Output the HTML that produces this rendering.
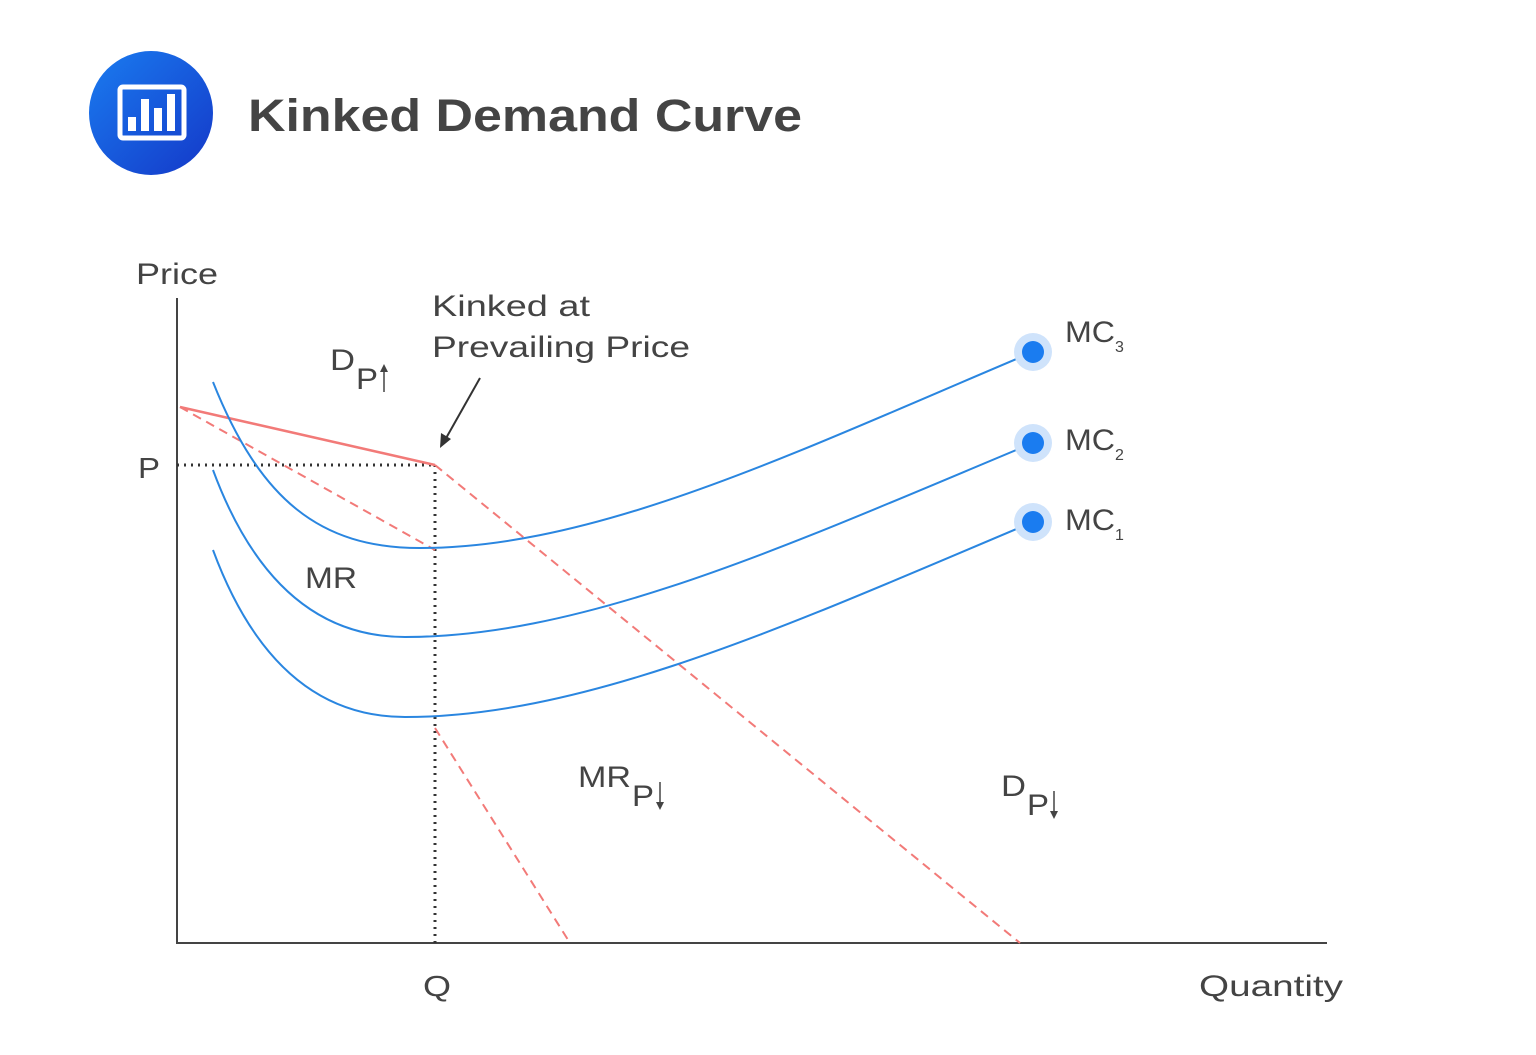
<!DOCTYPE html>
<html><head><meta charset="utf-8"><style>
body{margin:0;background:#fff;}
svg text{font-family:"Liberation Sans",sans-serif;fill:#444;}
</style></head><body>
<svg width="1536" height="1050" viewBox="0 0 1536 1050" xmlns="http://www.w3.org/2000/svg">
<defs>
<linearGradient id="g" x1="0" y1="0" x2="1" y2="1">
<stop offset="0" stop-color="#1a7cf0"/><stop offset="1" stop-color="#1438c8"/>
</linearGradient>
</defs>
<circle cx="151" cy="113" r="62" fill="url(#g)"/>
<rect x="120" y="87" width="64" height="51" rx="3" fill="none" stroke="#fff" stroke-width="5"/>
<rect x="128" y="117" width="8" height="14" fill="#fff"/>
<rect x="141" y="99" width="8" height="32" fill="#fff"/>
<rect x="154" y="108" width="8" height="23" fill="#fff"/>
<rect x="167" y="94" width="8" height="37" fill="#fff"/>
<text x="248" y="131" font-size="45" font-weight="bold" fill="#444" textLength="554" lengthAdjust="spacingAndGlyphs">Kinked Demand Curve</text>

<line x1="177" y1="298" x2="177" y2="943" stroke="#444" stroke-width="2"/>
<line x1="176" y1="943" x2="1327" y2="943" stroke="#444" stroke-width="2"/>
<text x="136" y="284" font-size="30" textLength="82" lengthAdjust="spacingAndGlyphs">Price</text>
<text x="138" y="478" font-size="29" textLength="22" lengthAdjust="spacingAndGlyphs">P</text>
<text x="423" y="996" font-size="29" textLength="28" lengthAdjust="spacingAndGlyphs">Q</text>
<text x="1199" y="996" font-size="30" textLength="144" lengthAdjust="spacingAndGlyphs">Quantity</text>

<line x1="177" y1="465" x2="435" y2="465" stroke="#333" stroke-width="3" stroke-dasharray="2 5"/>
<line x1="435" y1="465" x2="435" y2="943" stroke="#333" stroke-width="3" stroke-dasharray="2 5"/>

<line x1="180" y1="407" x2="435" y2="465" stroke="#f27a78" stroke-width="2.5"/>
<line x1="435" y1="465" x2="1020" y2="943" stroke="#f27a78" stroke-width="2" stroke-dasharray="9 6"/>
<line x1="180" y1="407" x2="435" y2="550" stroke="#f27a78" stroke-width="2" stroke-dasharray="9 6"/>
<line x1="435" y1="728" x2="570" y2="943" stroke="#f27a78" stroke-width="2" stroke-dasharray="9 6"/>

<g fill="none" stroke="#2a86e0" stroke-width="2">
<path d="M213,382 C260,500 320,548 420,548 C600,548 800,450 1033,352"/>
<path d="M213,470 C250,570 310,637 405,637 C590,637 800,540 1033,443"/>
<path d="M213,550 C250,650 310,717 405,717 C590,717 800,620 1033,522"/>
</g>
<g>
<circle cx="1033" cy="352" r="19" fill="#cfe3fb"/><circle cx="1033" cy="352" r="11" fill="#1a7cf0"/>
<circle cx="1033" cy="443" r="19" fill="#cfe3fb"/><circle cx="1033" cy="443" r="11" fill="#1a7cf0"/>
<circle cx="1033" cy="522" r="19" fill="#cfe3fb"/><circle cx="1033" cy="522" r="11" fill="#1a7cf0"/>
</g>
<text x="1065" y="342" font-size="30"><tspan textLength="50" lengthAdjust="spacingAndGlyphs">MC</tspan><tspan font-size="16" dy="10">3</tspan></text>
<text x="1065" y="450" font-size="30"><tspan textLength="50" lengthAdjust="spacingAndGlyphs">MC</tspan><tspan font-size="16" dy="10">2</tspan></text>
<text x="1065" y="530" font-size="30"><tspan textLength="50" lengthAdjust="spacingAndGlyphs">MC</tspan><tspan font-size="16" dy="10">1</tspan></text>

<text x="432" y="316" font-size="30" textLength="158" lengthAdjust="spacingAndGlyphs">Kinked at</text>
<text x="432" y="357" font-size="30" textLength="258" lengthAdjust="spacingAndGlyphs">Prevailing Price</text>
<line x1="480" y1="378" x2="445" y2="440" stroke="#333" stroke-width="2"/>
<path d="M440,448 L441,433 L451,439 Z" fill="#333"/>

<text x="330" y="370" font-size="30" textLength="25" lengthAdjust="spacingAndGlyphs">D</text>
<text x="356" y="389" font-size="30" textLength="22" lengthAdjust="spacingAndGlyphs">P</text>
<line x1="384" y1="392" x2="384" y2="368" stroke="#444" stroke-width="1.5"/><path d="M380,372 L384,364 L388,372 Z" fill="#444"/>

<text x="305" y="588" font-size="30" textLength="52" lengthAdjust="spacingAndGlyphs">MR</text>
<text x="578" y="787" font-size="30" textLength="53" lengthAdjust="spacingAndGlyphs">MR</text>
<text x="632" y="806" font-size="30" textLength="22" lengthAdjust="spacingAndGlyphs">P</text>
<line x1="660" y1="782" x2="660" y2="806" stroke="#444" stroke-width="1.5"/><path d="M656,802 L660,810 L664,802 Z" fill="#444"/>
<text x="1001" y="796" font-size="30" textLength="25" lengthAdjust="spacingAndGlyphs">D</text>
<text x="1027" y="815" font-size="30" textLength="22" lengthAdjust="spacingAndGlyphs">P</text>
<line x1="1054" y1="791" x2="1054" y2="815" stroke="#444" stroke-width="1.5"/><path d="M1050,811 L1054,819 L1058,811 Z" fill="#444"/>
</svg>
</body></html>
